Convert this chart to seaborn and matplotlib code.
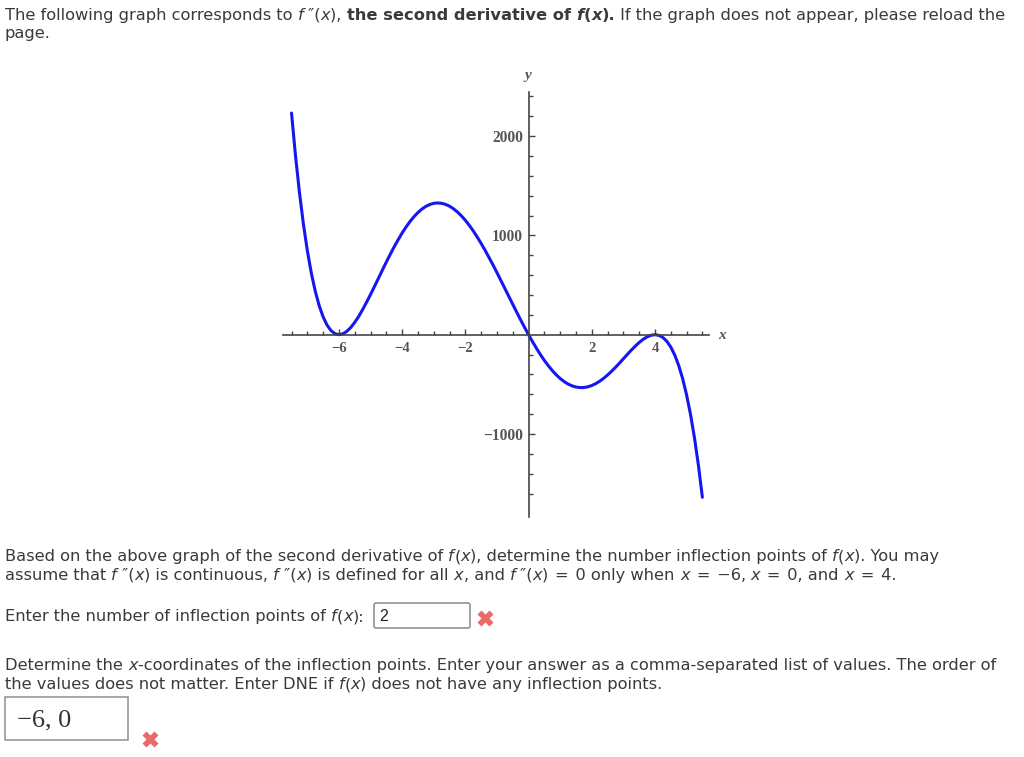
import matplotlib
matplotlib.use('Agg')
import matplotlib.pyplot as plt
from matplotlib.patches import FancyBboxPatch, Rectangle
from matplotlib.ticker import FixedLocator
import seaborn as sns

x_vals = [-7.5, -7.375, -7.25, -7.125, -7, -6.875, -6.75, -6.625, -6.5, -6.375, -6.25, -6.125,
          -6, -5.875, -5.75, -5.625, -5.5, -5.375, -5.25, -5.125, -5, -4.875, -4.75, -4.625,
          -4.5, -4.375, -4.25, -4.125, -4, -3.875, -3.75, -3.625, -3.5, -3.375, -3.25, -3.125,
          -3, -2.875, -2.75, -2.625, -2.5, -2.375, -2.25, -2.125, -2, -1.875, -1.75, -1.625,
          -1.5, -1.375, -1.25, -1.125, -1, -0.875, -0.75, -0.625, -0.5, -0.375, -0.25, -0.125,
          0, 0.125, 0.25, 0.375, 0.5, 0.625, 0.75, 0.875, 1, 1.125, 1.25, 1.375,
          1.5, 1.625, 1.75, 1.875, 2, 2.125, 2.25, 2.375, 2.5, 2.625, 2.75, 2.875,
          3, 3.125, 3.25, 3.375, 3.5, 3.625, 3.75, 3.875, 4, 4.125, 4.25, 4.375,
          4.5, 4.625, 4.75, 4.875, 5, 5.125, 5.25, 5.375, 5.5]
y_vals = [2232, 1804, 1434, 1116, 847, 622, 439, 292, 179, 96, 41, 10,
          0, 9, 34, 73, 124, 184, 253, 327, 405, 486, 568, 650,
          732, 810, 886, 957, 1024, 1085, 1140, 1189, 1230, 1265, 1292, 1311,
          1323, 1327, 1323, 1312, 1294, 1268, 1236, 1197, 1152, 1101, 1045, 984,
          919, 850, 777, 702, 625, 546, 466, 386, 306, 227, 149, 73,
          0, -70, -137, -200, -259, -312, -361, -404, -441, -472, -497, -515,
          -527, -533, -532, -525, -512, -493, -469, -440, -406, -369, -329, -287,
          -243, -199, -156, -116, -79, -47, -22, -6, 0, -7, -28, -66,
          -124, -204, -309, -441, -605, -803, -1038, -1315, -1637]

x_major = [-6, -4, -2, 2, 4]
x_minor = [-7.5, -7, -6.5, -5.5, -5, -4.5, -3.5, -3, -2.5, -1.5, -1, -0.5,
           0.5, 1, 1.5, 2.5, 3, 3.5, 4.5, 5, 5.5]
y_major = [-1000, 1000, 2000]
y_minor = [-1600, -1400, -1200, -800, -600, -400, -200, 200, 400, 600, 800,
           1200, 1400, 1600, 1800, 2200, 2400]

# ^ toggles bold, ~ toggles italic
line_texts = [
    (5, 20, "The following graph corresponds to ~f~ ″(~x~), ^the second derivative of ~f~(~x~).^ If the graph does not appear, please reload the"),
    (5, 38, "page."),
    (5, 561, "Based on the above graph of the second derivative of ~f~(~x~), determine the number inflection points of ~f~(~x~). You may"),
    (5, 580, "assume that ~f~ ″(~x~) is continuous, ~f~ ″(~x~) is defined for all ~x~, and ~f~ ″(~x~) \u200a=\u200a 0 only when ~x~ \u200a=\u200a −6, ~x~ \u200a=\u200a 0, and ~x~ \u200a=\u200a 4."),
    (5, 621, "Enter the number of inflection points of ~f~(~x~):"),
    (5, 670, "Determine the ~x~-coordinates of the inflection points. Enter your answer as a comma-separated list of values. The order of"),
    (5, 689, "the values does not matter. Enter DNE if ~f~(~x~) does not have any inflection points."),
]
wrong_marks = [(485, 618), (150, 739)]

TEXT_COLOR = '#3a3a3a'
AXIS_COLOR = '#444444'
FONT_SIZE = 11.7

sns.set_theme(style='white')
plt.rcParams['font.family'] = ['DejaVu Sans']

fig = plt.figure(figsize=(10.24, 7.57), dpi=100)


def draw_graph():
    # axes box in pixels: x 283-709, y 92-517
    ax = fig.add_axes([283 / 1024, 1 - 517 / 757, 426 / 1024, 425 / 757])
    sns.lineplot(x=x_vals, y=y_vals, color='#1616f0', linewidth=2.2, sort=False, ax=ax)
    ax.set_xlim(-7.77, 5.71)
    ax.set_ylim(-1836, 2444)
    ax.set_facecolor('none')

    for side in ['top', 'right']:
        ax.spines[side].set_visible(False)
    for side in ['left', 'bottom']:
        ax.spines[side].set_position(('data', 0))
        ax.spines[side].set_color(AXIS_COLOR)
        ax.spines[side].set_linewidth(1.2)

    ax.xaxis.set_major_locator(FixedLocator(x_major))
    ax.xaxis.set_minor_locator(FixedLocator(x_minor))
    ax.yaxis.set_major_locator(FixedLocator(y_major))
    ax.yaxis.set_minor_locator(FixedLocator(y_minor))
    ax.set_xticklabels([str(v).replace('-', '−') for v in x_major],
                       family='Liberation Serif', weight='bold', fontsize=10.5, color='#555555')
    ax.set_yticklabels([str(v).replace('-', '−') for v in y_major],
                       family='Liberation Serif', weight='bold', fontsize=11.2, color='#555555',
                       va='center_baseline')

    ax.tick_params(axis='x', which='major', direction='in', bottom=True, length=4.5, width=1,
                   color=AXIS_COLOR, pad=5)
    ax.tick_params(axis='x', which='minor', direction='in', bottom=True, length=2.8, width=1,
                   color=AXIS_COLOR)
    ax.tick_params(axis='y', which='major', direction='in', left=True, length=4.5, width=1,
                   color=AXIS_COLOR, pad=4)
    ax.tick_params(axis='y', which='minor', direction='in', left=True, length=2.8, width=1,
                   color=AXIS_COLOR)

    ax.text(722 / 1024, 1 - 335 / 757, 'x', transform=fig.transFigure, family='Liberation Serif',
            style='italic', weight='bold', fontsize=11, color='#555555', ha='center', va='center')
    ax.text(528 / 1024, 1 - 75 / 757, 'y', transform=fig.transFigure, family='Liberation Serif',
            style='italic', weight='bold', fontsize=11, color='#555555', ha='center', va='center')


def text_width(page, renderer, seg, **kw):
    # bars on both sides so that the spaces at the ends get counted
    t1 = page.text(0, 0, '|' + seg + '|', **kw)
    t2 = page.text(0, 0, '||', **kw)
    w = t1.get_window_extent(renderer).width - t2.get_window_extent(renderer).width
    t1.remove()
    t2.remove()
    return w


def draw_line(page, renderer, x, y, text):
    bold = False
    italic = False
    seg = ''
    for ch in text + '\0':
        if ch in '^~\0':
            if seg:
                kw = dict(fontsize=FONT_SIZE, color=TEXT_COLOR, va='baseline',
                          weight='bold' if bold else 'normal',
                          style='italic' if italic else 'normal')
                page.text(x, y, seg, **kw)
                x += text_width(page, renderer, seg, **kw)
                seg = ''
            if ch == '^':
                bold = not bold
            if ch == '~':
                italic = not italic
        else:
            seg += ch


def draw_page():
    page = fig.add_axes([0, 0, 1, 1], zorder=-1)
    page.set_xlim(0, 1024)
    page.set_ylim(757, 0)
    page.axis('off')
    renderer = fig.canvas.get_renderer()

    for x, y, text in line_texts:
        draw_line(page, renderer, x, y, text)

    # answer boxes
    page.add_patch(FancyBboxPatch((374, 603), 96, 25, boxstyle='round,pad=0,rounding_size=2',
                                  fc='white', ec='#8a8a8a', lw=1.1))
    page.text(379, 621, '2', family='Liberation Sans', fontsize=11.5, color='#222222', va='baseline')
    page.add_patch(Rectangle((5, 697), 123, 43, fc='white', ec='#8f8f8f', lw=1.1))
    page.text(17, 726, '−6, 0', family='Liberation Serif', fontsize=19, color='#333333', va='baseline')

    for mx, my in wrong_marks:
        page.plot(mx, my, marker='X', ms=12, color='#e96a6a', mec='none')


draw_graph()
draw_page()
fig.savefig('out.png', dpi=100)
